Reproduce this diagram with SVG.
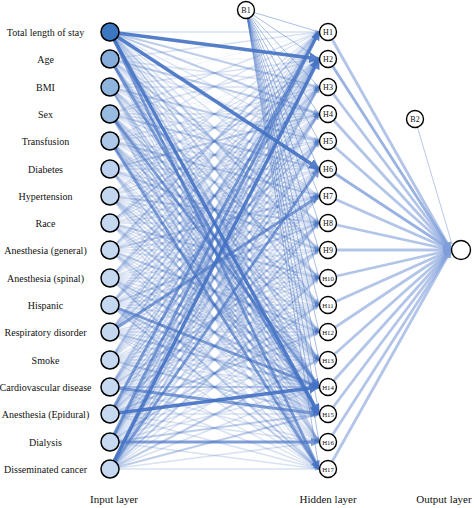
<svg xmlns="http://www.w3.org/2000/svg" width="474" height="508" viewBox="0 0 474 508">
<style>
.bg{fill:#fff}
.c path{stroke:#4472c4;fill:none;marker-end:url(#ah)}
.l0{stroke-width:.6;opacity:.12}
.l1{stroke-width:1.4;opacity:.2}
.l2{stroke-width:2;opacity:.34}
.l3{stroke-width:2.8;opacity:.68}
.l4{stroke-width:3.4;opacity:.9}
.b1 path{stroke:#4472c4;stroke-width:1;opacity:.45;fill:none;marker-end:url(#ah)}
.ho path{stroke:#7f9fdc;stroke-width:2.8;opacity:.6;fill:none;marker-end:url(#ah2)}
.ho .d{opacity:.8}
.nd circle{stroke:#000;stroke-width:1.5}
.hn circle{fill:#fff;stroke:#000;stroke-width:1.4}
.lab{font-family:"Liberation Serif","Times New Roman",serif;font-size:10px;text-anchor:middle;fill:#111}
.hl{font-family:"Liberation Serif","Times New Roman",serif;font-size:8px;text-anchor:middle;fill:#111}
.hs{font-size:6.8px}
.ly{font-family:"Liberation Serif","Times New Roman",serif;font-size:11px;text-anchor:middle;fill:#111}
</style>
<defs>
<marker id="ah" viewBox="0 0 10 10" refX="9" refY="5" markerWidth="3.2" markerHeight="3.2" orient="auto"><path d="M0 0L10 5L0 10z" fill="#4472c4"/></marker>
<marker id="ah2" viewBox="0 0 10 10" refX="9" refY="5" markerWidth="3" markerHeight="3" orient="auto"><path d="M0 0L10 5L0 10z" fill="#7f9fdc"/></marker>
</defs>
<rect class="bg" x="0" y="0" width="474" height="508"/>
<g id="connectors">
<g class="b1">
<path d="M246 10L319 32"/><path d="M246 10L319 59"/><path d="M246 10L319 87"/><path d="M246 10L319 114"/><path d="M246 10L319 141"/><path d="M246 10L319 169"/><path d="M246 10L319 196"/><path d="M246 10L319 223"/><path d="M246 10L319 250"/><path d="M246 10L319 278"/><path d="M246 10L319 305"/><path d="M246 10L319 332"/><path d="M246 10L319 360"/><path d="M246 10L319 387"/><path d="M246 10L319 414"/><path d="M246 10L319 442"/><path d="M246 10L319 469"/>
</g>
<g class="c">
<path class="l1" d="M110 59L319 32"/><path class="l0" d="M110 59L319 59"/><path class="l1" d="M110 59L319 87"/><path class="l2" d="M110 59L319 114"/><path class="l1" d="M110 59L319 141"/><path class="l0" d="M110 59L319 169"/><path class="l1" d="M110 59L319 196"/><path class="l2" d="M110 59L319 223"/><path class="l1" d="M110 59L319 250"/><path class="l1" d="M110 59L319 278"/><path class="l0" d="M110 59L319 305"/><path class="l1" d="M110 59L319 332"/><path class="l2" d="M110 59L319 360"/><path class="l2" d="M110 59L319 387"/><path class="l3" d="M110 59L319 414"/><path class="l1" d="M110 59L319 442"/><path class="l1" d="M110 59L319 469"/>
<path class="l0" d="M110 87L319 32"/><path class="l1" d="M110 87L319 59"/><path class="l1" d="M110 87L319 87"/><path class="l0" d="M110 87L319 114"/><path class="l2" d="M110 87L319 141"/><path class="l1" d="M110 87L319 169"/><path class="l1" d="M110 87L319 196"/><path class="l0" d="M110 87L319 223"/><path class="l1" d="M110 87L319 250"/><path class="l2" d="M110 87L319 278"/><path class="l1" d="M110 87L319 305"/><path class="l1" d="M110 87L319 332"/><path class="l0" d="M110 87L319 360"/><path class="l2" d="M110 87L319 387"/><path class="l2" d="M110 87L319 414"/><path class="l1" d="M110 87L319 442"/><path class="l1" d="M110 87L319 469"/>
<path class="l1" d="M110 114L319 32"/><path class="l1" d="M110 114L319 59"/><path class="l0" d="M110 114L319 87"/><path class="l1" d="M110 114L319 114"/><path class="l1" d="M110 114L319 141"/><path class="l2" d="M110 114L319 169"/><path class="l1" d="M110 114L319 196"/><path class="l1" d="M110 114L319 223"/><path class="l0" d="M110 114L319 250"/><path class="l1" d="M110 114L319 278"/><path class="l2" d="M110 114L319 305"/><path class="l1" d="M110 114L319 332"/><path class="l2" d="M110 114L319 360"/><path class="l3" d="M110 114L319 387"/><path class="l2" d="M110 114L319 414"/><path class="l1" d="M110 114L319 442"/><path class="l2" d="M110 114L319 469"/>
<path class="l1" d="M110 141L319 32"/><path class="l0" d="M110 141L319 59"/><path class="l1" d="M110 141L319 87"/><path class="l1" d="M110 141L319 114"/><path class="l0" d="M110 141L319 141"/><path class="l1" d="M110 141L319 169"/><path class="l2" d="M110 141L319 196"/><path class="l1" d="M110 141L319 223"/><path class="l1" d="M110 141L319 250"/><path class="l0" d="M110 141L319 278"/><path class="l1" d="M110 141L319 305"/><path class="l2" d="M110 141L319 332"/><path class="l1" d="M110 141L319 360"/><path class="l2" d="M110 141L319 387"/><path class="l1" d="M110 141L319 414"/><path class="l2" d="M110 141L319 442"/><path class="l3" d="M110 141L319 469"/>
<path class="l0" d="M110 169L319 32"/><path class="l1" d="M110 169L319 59"/><path class="l1" d="M110 169L319 87"/><path class="l2" d="M110 169L319 114"/><path class="l1" d="M110 169L319 141"/><path class="l1" d="M110 169L319 169"/><path class="l0" d="M110 169L319 196"/><path class="l1" d="M110 169L319 223"/><path class="l2" d="M110 169L319 250"/><path class="l1" d="M110 169L319 278"/><path class="l1" d="M110 169L319 305"/><path class="l0" d="M110 169L319 332"/><path class="l1" d="M110 169L319 360"/><path class="l1" d="M110 169L319 387"/><path class="l2" d="M110 169L319 414"/><path class="l1" d="M110 169L319 442"/><path class="l1" d="M110 169L319 469"/>
<path class="l1" d="M110 196L319 32"/><path class="l1" d="M110 196L319 59"/><path class="l0" d="M110 196L319 87"/><path class="l1" d="M110 196L319 114"/><path class="l1" d="M110 196L319 141"/><path class="l0" d="M110 196L319 169"/><path class="l1" d="M110 196L319 196"/><path class="l2" d="M110 196L319 223"/><path class="l1" d="M110 196L319 250"/><path class="l1" d="M110 196L319 278"/><path class="l1" d="M110 196L319 305"/><path class="l1" d="M110 196L319 332"/><path class="l2" d="M110 196L319 360"/><path class="l1" d="M110 196L319 387"/><path class="l2" d="M110 196L319 414"/><path class="l0" d="M110 196L319 442"/><path class="l1" d="M110 196L319 469"/>
<path class="l1" d="M110 223L319 32"/><path class="l2" d="M110 223L319 59"/><path class="l1" d="M110 223L319 87"/><path class="l1" d="M110 223L319 114"/><path class="l0" d="M110 223L319 141"/><path class="l1" d="M110 223L319 169"/><path class="l1" d="M110 223L319 196"/><path class="l1" d="M110 223L319 223"/><path class="l0" d="M110 223L319 250"/><path class="l2" d="M110 223L319 278"/><path class="l1" d="M110 223L319 305"/><path class="l1" d="M110 223L319 332"/><path class="l1" d="M110 223L319 360"/><path class="l2" d="M110 223L319 387"/><path class="l1" d="M110 223L319 414"/><path class="l1" d="M110 223L319 442"/><path class="l0" d="M110 223L319 469"/>
<path class="l2" d="M110 250L319 32"/><path class="l1" d="M110 250L319 59"/><path class="l1" d="M110 250L319 87"/><path class="l0" d="M110 250L319 114"/><path class="l1" d="M110 250L319 141"/><path class="l1" d="M110 250L319 169"/><path class="l2" d="M110 250L319 196"/><path class="l1" d="M110 250L319 223"/><path class="l1" d="M110 250L319 250"/><path class="l1" d="M110 250L319 278"/><path class="l0" d="M110 250L319 305"/><path class="l2" d="M110 250L319 332"/><path class="l1" d="M110 250L319 360"/><path class="l1" d="M110 250L319 387"/><path class="l2" d="M110 250L319 414"/><path class="l1" d="M110 250L319 442"/><path class="l1" d="M110 250L319 469"/>
<path class="l1" d="M110 278L319 32"/><path class="l2" d="M110 278L319 59"/><path class="l1" d="M110 278L319 87"/><path class="l1" d="M110 278L319 114"/><path class="l1" d="M110 278L319 141"/><path class="l0" d="M110 278L319 169"/><path class="l1" d="M110 278L319 196"/><path class="l1" d="M110 278L319 223"/><path class="l1" d="M110 278L319 250"/><path class="l1" d="M110 278L319 278"/><path class="l1" d="M110 278L319 305"/><path class="l1" d="M110 278L319 332"/><path class="l1" d="M110 278L319 360"/><path class="l2" d="M110 278L319 387"/><path class="l1" d="M110 278L319 414"/><path class="l1" d="M110 278L319 442"/><path class="l2" d="M110 278L319 469"/>
<path class="l1" d="M110 305L319 32"/><path class="l1" d="M110 305L319 59"/><path class="l2" d="M110 305L319 87"/><path class="l1" d="M110 305L319 114"/><path class="l0" d="M110 305L319 141"/><path class="l1" d="M110 305L319 169"/><path class="l1" d="M110 305L319 196"/><path class="l2" d="M110 305L319 223"/><path class="l1" d="M110 305L319 250"/><path class="l1" d="M110 305L319 278"/><path class="l1" d="M110 305L319 305"/><path class="l1" d="M110 305L319 332"/><path class="l0" d="M110 305L319 360"/><path class="l3" d="M110 305L319 387"/><path class="l2" d="M110 305L319 414"/><path class="l1" d="M110 305L319 442"/><path class="l2" d="M110 305L319 469"/>
<path class="l1" d="M110 332L319 32"/><path class="l2" d="M110 332L319 59"/><path class="l1" d="M110 332L319 87"/><path class="l1" d="M110 332L319 114"/><path class="l2" d="M110 332L319 141"/><path class="l1" d="M110 332L319 169"/><path class="l3" d="M110 332L319 196"/><path class="l1" d="M110 332L319 223"/><path class="l0" d="M110 332L319 250"/><path class="l1" d="M110 332L319 278"/><path class="l1" d="M110 332L319 305"/><path class="l1" d="M110 332L319 332"/><path class="l1" d="M110 332L319 360"/><path class="l2" d="M110 332L319 387"/><path class="l1" d="M110 332L319 414"/><path class="l1" d="M110 332L319 442"/><path class="l1" d="M110 332L319 469"/>
<path class="l2" d="M110 360L319 32"/><path class="l1" d="M110 360L319 59"/><path class="l1" d="M110 360L319 87"/><path class="l1" d="M110 360L319 114"/><path class="l1" d="M110 360L319 141"/><path class="l1" d="M110 360L319 169"/><path class="l1" d="M110 360L319 196"/><path class="l0" d="M110 360L319 223"/><path class="l1" d="M110 360L319 250"/><path class="l1" d="M110 360L319 278"/><path class="l1" d="M110 360L319 305"/><path class="l1" d="M110 360L319 332"/><path class="l1" d="M110 360L319 360"/><path class="l1" d="M110 360L319 387"/><path class="l2" d="M110 360L319 414"/><path class="l0" d="M110 360L319 442"/><path class="l1" d="M110 360L319 469"/>
<path class="l1" d="M110 387L319 32"/><path class="l2" d="M110 387L319 59"/><path class="l1" d="M110 387L319 87"/><path class="l2" d="M110 387L319 114"/><path class="l1" d="M110 387L319 141"/><path class="l1" d="M110 387L319 169"/><path class="l1" d="M110 387L319 196"/><path class="l1" d="M110 387L319 223"/><path class="l2" d="M110 387L319 250"/><path class="l1" d="M110 387L319 278"/><path class="l1" d="M110 387L319 305"/><path class="l1" d="M110 387L319 332"/><path class="l0" d="M110 387L319 360"/><path class="l2" d="M110 387L319 387"/><path class="l3" d="M110 387L319 414"/><path class="l1" d="M110 387L319 442"/><path class="l1" d="M110 387L319 469"/>
<path class="l3" d="M110 414L319 32"/><path class="l1" d="M110 414L319 59"/><path class="l1" d="M110 414L319 87"/><path class="l2" d="M110 414L319 114"/><path class="l1" d="M110 414L319 141"/><path class="l1" d="M110 414L319 169"/><path class="l1" d="M110 414L319 196"/><path class="l2" d="M110 414L319 223"/><path class="l1" d="M110 414L319 250"/><path class="l1" d="M110 414L319 278"/><path class="l1" d="M110 414L319 305"/><path class="l2" d="M110 414L319 332"/><path class="l1" d="M110 414L319 360"/><path class="l4" d="M110 414L319 387"/><path class="l1" d="M110 414L319 414"/><path class="l1" d="M110 414L319 442"/><path class="l1" d="M110 414L319 469"/>
<path class="l3" d="M110 442L319 32"/><path class="l2" d="M110 442L319 59"/><path class="l2" d="M110 442L319 87"/><path class="l1" d="M110 442L319 114"/><path class="l2" d="M110 442L319 141"/><path class="l1" d="M110 442L319 169"/><path class="l1" d="M110 442L319 196"/><path class="l1" d="M110 442L319 223"/><path class="l1" d="M110 442L319 250"/><path class="l1" d="M110 442L319 278"/><path class="l2" d="M110 442L319 305"/><path class="l1" d="M110 442L319 332"/><path class="l1" d="M110 442L319 360"/><path class="l1" d="M110 442L319 387"/><path class="l2" d="M110 442L319 414"/><path class="l3" d="M110 442L319 442"/><path class="l1" d="M110 442L319 469"/>
<path class="l2" d="M110 469L319 32"/><path class="l4" d="M110 469L319 59"/><path class="l2" d="M110 469L319 87"/><path class="l1" d="M110 469L319 114"/><path class="l2" d="M110 469L319 141"/><path class="l3" d="M110 469L319 169"/><path class="l1" d="M110 469L319 196"/><path class="l2" d="M110 469L319 223"/><path class="l1" d="M110 469L319 250"/><path class="l2" d="M110 469L319 278"/><path class="l1" d="M110 469L319 305"/><path class="l1" d="M110 469L319 332"/><path class="l2" d="M110 469L319 360"/><path class="l1" d="M110 469L319 387"/><path class="l2" d="M110 469L319 414"/><path class="l1" d="M110 469L319 442"/><path class="l1" d="M110 469L319 469"/>
<path class="l1" d="M110 32L319 32"/><path class="l4" d="M110 32L319 59"/><path class="l2" d="M110 32L319 87"/><path class="l2" d="M110 32L319 114"/><path class="l1" d="M110 32L319 141"/><path class="l4" d="M110 32L319 169"/><path class="l1" d="M110 32L319 196"/><path class="l1" d="M110 32L319 223"/><path class="l2" d="M110 32L319 250"/><path class="l1" d="M110 32L319 278"/><path class="l2" d="M110 32L319 305"/><path class="l1" d="M110 32L319 332"/><path class="l1" d="M110 32L319 360"/><path class="l2" d="M110 32L319 387"/><path class="l4" d="M110 32L319 414"/><path class="l1" d="M110 32L319 442"/><path class="l3" d="M110 32L319 469"/>
</g>
<g class="ho">
<path d="M328 32L451 250"/><path class="d" d="M328 59L451 250"/><path d="M328 87L451 250"/><path d="M328 114L451 250"/><path d="M328 141L451 250"/><path class="d" d="M328 169L451 250"/><path d="M328 196L451 250"/><path d="M328 223L451 250"/><path d="M328 250L451 250"/><path d="M328 278L451 250"/><path d="M328 305L451 250"/><path d="M328 332L451 250"/><path d="M328 360L451 250"/><path d="M328 387L451 250"/><path d="M328 414L451 250"/><path d="M328 442L451 250"/><path d="M328 469L451 250"/>
<path d="M415 119L452 244" style="stroke-width:.8;opacity:.7"/>
</g>
</g>
<g class="nd">
<g id="in1"><circle cx="110" cy="32" r="9" fill="#3b77c0"/><text class="lab" x="45.5" y="35.5">Total length of stay</text></g>
<g id="in2"><circle cx="110" cy="59" r="9" fill="#86addb"/><text class="lab" x="45.5" y="62.5">Age</text></g>
<g id="in3"><circle cx="110" cy="87" r="9" fill="#8fb4de"/><text class="lab" x="45.5" y="90.5">BMI</text></g>
<g id="in4"><circle cx="110" cy="114" r="9" fill="#98bbe1"/><text class="lab" x="45.5" y="117.5">Sex</text></g>
<g id="in5"><circle cx="110" cy="141" r="9" fill="#acc7e8"/><text class="lab" x="45.5" y="144.5">Transfusion</text></g>
<g id="in6"><circle cx="110" cy="169" r="9" fill="#bcd2ee"/><text class="lab" x="45.5" y="172.5">Diabetes</text></g>
<g id="in7"><circle cx="110" cy="196" r="9" fill="#c2d6ef"/><text class="lab" x="45.5" y="199.5">Hypertension</text></g>
<g id="in8"><circle cx="110" cy="223" r="9" fill="#c4d8f0"/><text class="lab" x="45.5" y="226.5">Race</text></g>
<g id="in9"><circle cx="110" cy="250" r="9" fill="#c4d8f0"/><text class="lab" x="45.5" y="253.5">Anesthesia (general)</text></g>
<g id="in10"><circle cx="110" cy="278" r="9" fill="#c4d8f0"/><text class="lab" x="45.5" y="281.5">Anesthesia (spinal)</text></g>
<g id="in11"><circle cx="110" cy="305" r="9" fill="#c4d8f0"/><text class="lab" x="45.5" y="308.5">Hispanic</text></g>
<g id="in12"><circle cx="110" cy="332" r="9" fill="#c4d8f0"/><text class="lab" x="45.5" y="335.5">Respiratory disorder</text></g>
<g id="in13"><circle cx="110" cy="360" r="9" fill="#c6d9f0"/><text class="lab" x="45.5" y="363.5">Smoke</text></g>
<g id="in14"><circle cx="110" cy="387" r="9" fill="#c6d9f0"/><text class="lab" x="45.5" y="390.5">Cardiovascular disease</text></g>
<g id="in15"><circle cx="110" cy="414" r="9" fill="#c6d9f0"/><text class="lab" x="45.5" y="417.5">Anesthesia (Epidural)</text></g>
<g id="in16"><circle cx="110" cy="442" r="9" fill="#c6d9f0"/><text class="lab" x="45.5" y="445.5">Dialysis</text></g>
<g id="in17"><circle cx="110" cy="469" r="9" fill="#c6d9f0"/><text class="lab" x="45.5" y="472.5">Disseminated cancer</text></g>
</g>
<g class="hn">
<g id="b1"><circle cx="246" cy="10" r="8.5"/><text class="hl" x="246" y="12.8">B1</text></g>
<g id="h1"><circle cx="328" cy="32" r="8.5"/><text class="hl" x="328" y="34.8">H1</text></g>
<g id="h2"><circle cx="328" cy="59" r="8.5"/><text class="hl" x="328" y="61.8">H2</text></g>
<g id="h3"><circle cx="328" cy="87" r="8.5"/><text class="hl" x="328" y="89.8">H3</text></g>
<g id="h4"><circle cx="328" cy="114" r="8.5"/><text class="hl" x="328" y="116.8">H4</text></g>
<g id="h5"><circle cx="328" cy="141" r="8.5"/><text class="hl" x="328" y="143.8">H5</text></g>
<g id="h6"><circle cx="328" cy="169" r="8.5"/><text class="hl" x="328" y="171.8">H6</text></g>
<g id="h7"><circle cx="328" cy="196" r="8.5"/><text class="hl" x="328" y="198.8">H7</text></g>
<g id="h8"><circle cx="328" cy="223" r="8.5"/><text class="hl" x="328" y="225.8">H8</text></g>
<g id="h9"><circle cx="328" cy="250" r="8.5"/><text class="hl" x="328" y="252.8">H9</text></g>
<g id="h10"><circle cx="328" cy="278" r="8.5"/><text class="hl hs" x="328" y="280.5">H10</text></g>
<g id="h11"><circle cx="328" cy="305" r="8.5"/><text class="hl hs" x="328" y="307.5">H11</text></g>
<g id="h12"><circle cx="328" cy="332" r="8.5"/><text class="hl hs" x="328" y="334.5">H12</text></g>
<g id="h13"><circle cx="328" cy="360" r="8.5"/><text class="hl hs" x="328" y="362.5">H13</text></g>
<g id="h14"><circle cx="328" cy="387" r="8.5"/><text class="hl hs" x="328" y="389.5">H14</text></g>
<g id="h15"><circle cx="328" cy="414" r="8.5"/><text class="hl hs" x="328" y="416.5">H15</text></g>
<g id="h16"><circle cx="328" cy="442" r="8.5"/><text class="hl hs" x="328" y="444.5">H16</text></g>
<g id="h17"><circle cx="328" cy="469" r="8.5"/><text class="hl hs" x="328" y="471.5">H17</text></g>
<g id="b2"><circle cx="415" cy="119" r="8.5"/><text class="hl" x="415" y="121.8">B2</text></g>
<g id="out"><circle cx="461" cy="250" r="9.5"/></g>
</g>
<g id="layers">
<text class="ly" x="114" y="503">Input layer</text>
<text class="ly" x="328" y="503">Hidden layer</text>
<text class="ly" x="444" y="503">Output layer</text>
</g>
</svg>
